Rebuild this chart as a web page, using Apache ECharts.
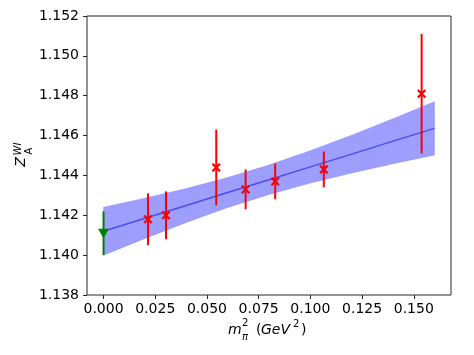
<!DOCTYPE html>
<html>
<head>
<meta charset="utf-8">
<script src="https://cdn.jsdelivr.net/npm/echarts@6/dist/echarts.min.js"></script>
<style>
html,body{margin:0;padding:0;background:#fff;}
#chart{width:474px;height:355px;}
</style>
</head>
<body>
<div id="chart"></div>
<script>
// ---- data ----
const xTicks = [0, 0.025, 0.05, 0.075, 0.1, 0.125, 0.15];
const yTicks = [1.138, 1.140, 1.142, 1.144, 1.146, 1.148, 1.150, 1.152];

// lattice points (red crosses)
const m2 = [0.0215, 0.0302, 0.0545, 0.0687, 0.0830, 0.1065, 0.1538];
const zVal = [1.1418, 1.1420, 1.1444, 1.1433, 1.1437, 1.1443, 1.1481];
const zErr = [0.0013, 0.0012, 0.0019, 0.0010, 0.0009, 0.0009, 0.0030];

// chiral limit (green triangle)
const chiralX = [0];
const chiralZ = [1.1411];
const chiralErr = [0.0011];

// fit line and error band
const fitX = [0, 0.02, 0.04, 0.06, 0.08, 0.10, 0.12, 0.14, 0.16];
const fitLine = [1.14120, 1.14185, 1.14249, 1.14314, 1.14378, 1.14443, 1.14507, 1.14572, 1.14636];
const fitUpper = [1.14240, 1.14286, 1.14334, 1.14389, 1.14452, 1.14524, 1.14602, 1.14685, 1.14770];
const fitLower = [1.14000, 1.14084, 1.14164, 1.14239, 1.14304, 1.14362, 1.14412, 1.14459, 1.14502];

const FONT = 'DejaVu Sans';
const chart = echarts.init(document.getElementById('chart'), null, {renderer: 'canvas'});

const pointData = m2.map((x, i) => [x, zVal[i], zErr[i]]);
const chiralData = chiralX.map((x, i) => [x, chiralZ[i], chiralErr[i]]);
const lineData = fitX.map((x, i) => [x, fitLine[i]]);
const bandData = fitX.map((x, i) => [x, fitLower[i], fitUpper[i]]);

function txt(text, x, y, size, italic, rot, align) {
  return {
    type: 'text', x: x, y: y, rotation: rot || 0, z: 100,
    style: {
      text: text, fill: '#000', font: (italic ? 'italic ' : '') + size + 'px "' + FONT + '"',
      textAlign: align || 'center', textVerticalAlign: 'middle'
    }
  };
}

const option = {
  animation: false,
  backgroundColor: '#fff',
  grid: {left: 87, right: 23, top: 16, bottom: 60, show: true, borderColor: '#262626', borderWidth: 1, backgroundColor: 'transparent'},
  xAxis: {
    type: 'value', min: -0.008, max: 0.168,
    splitLine: {show: false},
    axisLine: {show: false, onZero: false},
    axisTick: {show: true, length: 4, customValues: xTicks, lineStyle: {color: '#262626', width: 1}},
    axisLabel: {show: true, customValues: xTicks, margin: 7, color: '#000', fontFamily: FONT, fontSize: 14,
      formatter: v => Number(v).toFixed(3)}
  },
  yAxis: {
    type: 'value', min: 1.138, max: 1.152,
    splitLine: {show: false},
    axisLine: {show: false, onZero: false},
    axisTick: {show: true, length: 4, customValues: yTicks, lineStyle: {color: '#262626', width: 1}},
    axisLabel: {show: true, customValues: yTicks, margin: 8, color: '#000', fontFamily: FONT, fontSize: 14,
      formatter: v => Number(v).toFixed(3)}
  },
  series: [
    {
      type: 'custom', name: 'band', z: 1,
      data: [0],
      renderItem: function (params, api) {
        const up = bandData.map(d => api.coord([d[0], d[2]]));
        const lo = bandData.map(d => api.coord([d[0], d[1]])).reverse();
        return {type: 'polygon', shape: {points: up.concat(lo)},
          style: {fill: 'rgba(0,0,255,0.38)', stroke: 'rgba(120,120,255,0.5)', lineWidth: 0.8}};
      }
    },
    {
      type: 'line', name: 'fit', z: 2, data: lineData, showSymbol: false, symbol: 'none',
      lineStyle: {color: '#4c4cf0', width: 1.5}
    },
    {
      type: 'custom', name: 'points', z: 3, data: pointData,
      renderItem: function (params, api) {
        const x = api.value(0), y = api.value(1), e = api.value(2);
        const t = api.coord([x, y + e]), b = api.coord([x, y - e]), c = api.coord([x, y]);
        const s = 3.8;
        const st = {stroke: '#ff0000', lineWidth: 2.2};
        return {type: 'group', children: [
          {type: 'line', shape: {x1: t[0], y1: t[1], x2: b[0], y2: b[1]}, style: {stroke: '#ff0000', lineWidth: 2}},
          {type: 'line', shape: {x1: c[0] - s, y1: c[1] - s, x2: c[0] + s, y2: c[1] + s}, style: st},
          {type: 'line', shape: {x1: c[0] - s, y1: c[1] + s, x2: c[0] + s, y2: c[1] - s}, style: st}
        ]};
      }
    },
    {
      type: 'custom', name: 'chiral', z: 4, data: chiralData,
      renderItem: function (params, api) {
        const x = api.value(0), y = api.value(1), e = api.value(2);
        const t = api.coord([x, y + e]), b = api.coord([x, y - e]), c = api.coord([x, y]);
        return {type: 'group', children: [
          {type: 'line', shape: {x1: t[0], y1: t[1], x2: b[0], y2: b[1]}, style: {stroke: '#008000', lineWidth: 2}},
          {type: 'polygon', shape: {points: [[c[0] - 5.5, c[1] - 4.5], [c[0] + 5.5, c[1] - 4.5], [c[0], c[1] + 5]]},
            style: {fill: '#008000'}}
        ]};
      }
    }
  ],
  graphic: [
    // y-axis label Z_A^{WI}
    txt('Z', 21, 162, 14, true, Math.PI / 2),
    txt('WI', 18, 149, 10, true, Math.PI / 2),
    txt('A', 29, 151, 10, false, Math.PI / 2),
    // x-axis label m_pi^2 (GeV^2)
    txt('m', 228, 330, 14, true, 0, 'left'),
    txt('2', 242, 323, 10, false, 0, 'left'),
    txt('\u03c0', 242, 337, 10, true, 0, 'left'),
    txt('(', 256, 330, 14, false, 0, 'left'),
    txt('GeV', 261, 330, 14, true, 0, 'left'),
    txt('2', 293, 324, 10, false, 0, 'left'),
    txt(')', 301, 330, 14, false, 0, 'left')
  ]
};
chart.setOption(option);
</script>
</body>
</html>
